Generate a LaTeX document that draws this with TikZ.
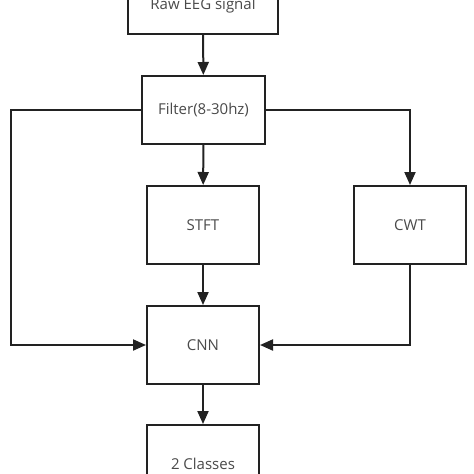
\documentclass[tikz,border=0pt]{standalone}
\usepackage{fontspec}
\setmainfont{Open Sans}
\usetikzlibrary{arrows.meta}
\definecolor{ln}{HTML}{222222}
\definecolor{tx}{HTML}{4a4a4a}
\begin{document}
\begin{tikzpicture}[x=1pt,y=-1pt,
  box/.style={draw=ln,line width=2pt,fill=white,inner sep=0pt,text=tx,font=\fontsize{15}{17}\selectfont},
  conn/.style={draw=ln,line width=2pt,-{Triangle[length=13pt,width=11pt]}}]
\useasboundingbox (0,0) rectangle (474,474);
\clip (0,0) rectangle (474,474);
\fill[white] (0,0) rectangle (474,474);
\node[box,minimum width=150pt,minimum height=56pt] (raw) at (203,6) {Raw EEG signal};
\node[box,minimum width=123pt,minimum height=68pt] (filter) at (203.5,110) {Filter(8-30hz)};
\node[box,minimum width=112pt,minimum height=78pt] (stft) at (203,225) {STFT};
\node[box,minimum width=112pt,minimum height=78pt] (cwt) at (410,225) {CWT};
\node[box,minimum width=112pt,minimum height=78pt] (cnn) at (203,345) {CNN};
\node[box,minimum width=112pt,minimum height=78pt] (cls) at (203,464) {2 Classes};
\coordinate (lc) at (11,345);
\draw[conn] (raw) -- (filter);
\draw[conn] (filter) -- (stft);
\draw[conn] (stft) -- (cnn);
\draw[conn] (cnn) -- (cls);
\draw[conn] (filter.east) -| (cwt.north);
\draw[conn] (filter.west) -| (lc) -- (cnn.west);
\draw[conn] (cwt.south) |- (cnn.east);
\end{tikzpicture}
\end{document}
